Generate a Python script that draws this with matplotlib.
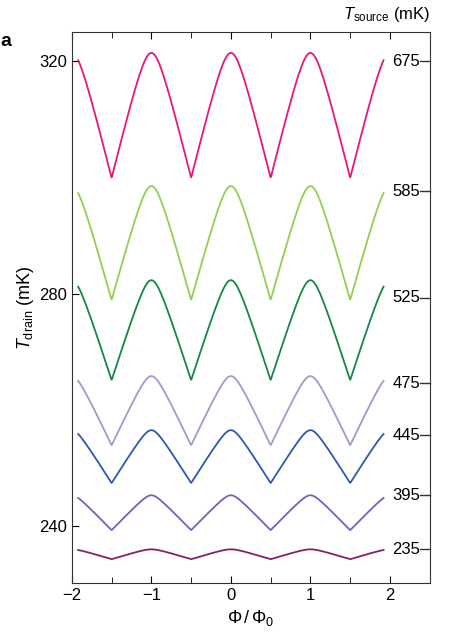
import numpy as np
import matplotlib
matplotlib.use("Agg")
import matplotlib.pyplot as plt

plt.rcParams["font.family"] = ["Liberation Sans", "DejaVu Sans"]
plt.rcParams["mathtext.fontset"] = "custom"
plt.rcParams["mathtext.rm"] = "Liberation Sans"
plt.rcParams["mathtext.it"] = "Liberation Sans:italic"

t_source = [675, 585, 525, 475, 445, 395, 235]
peaks = [321.4, 298.5, 282.3, 265.8, 256.5, 245.3, 236.0]
dips = [299.9, 278.9, 265.1, 253.9, 247.4, 239.3, 234.3]
label_y = [320.0, 297.6, 279.3, 264.6, 255.6, 245.3, 236.0]
colors = ["#e8177f", "#92d050", "#13884a", "#9c9bd2", "#2e58b4", "#6f63bd", "#86206e"]
roundness = [0.13, 0.12, 0.11, 0.10, 0.09, 0.08, 0.10]

fig = plt.figure(figsize=(4.49, 6.4), dpi=100)
ax = fig.add_axes([0.160, 0.089, 0.797, 0.861])
phi = np.linspace(-1.92, 1.92, 800)
d = np.abs(phi - np.round(phi))
for ts, pk, dp, c, e in zip(t_source, peaks, dips, colors, roundness):
    prof = (np.sqrt(0.25 + e**2) - np.sqrt(d**2 + e**2)) / (np.sqrt(0.25 + e**2) - e)
    ax.plot(phi, dp + (pk - dp) * prof, color=c, lw=1.3)

ax.set_xlim(-2, 2.5)
ax.set_ylim(230.2, 325)
ax.set_xticks([-2, -1, 0, 1, 2])
ax.set_xticklabels(["\u22122", "\u22121", "0", "1", "2"])
ax.set_xticks([-1.5, -0.5, 0.5, 1.5], minor=True)
ax.set_yticks([240, 280, 320])
ax.tick_params(direction="in", top=True, which="both", labelsize=12, length=5)
ax.tick_params(which="minor", length=4)
ax.tick_params(axis="y", left=True, right=False)
for ts, ly in zip(t_source, label_y):
    ax.text(2.38, ly, str(ts), ha="right", va="center", fontsize=12)
    ax.plot([2.38, 2.5], [ly, ly], color="#333333", lw=1, clip_on=False)
for sp in ax.spines.values():
    sp.set_color("#333333")
ax.set_xlabel(r"$\mathit{\Phi}\,/\,\mathit{\Phi}_0$", fontsize=13)
ax.set_ylabel(r"$T_{\rm drain}$ (mK)", fontsize=13, labelpad=2)
fig.text(0.957, 0.978, r"$T_{\rm source}$ (mK)", ha="right", va="center", fontsize=12)
fig.text(0.0, 0.935, "a", fontsize=14, fontweight="bold", ha="left", va="center")
fig.savefig("out.png", dpi=100)
